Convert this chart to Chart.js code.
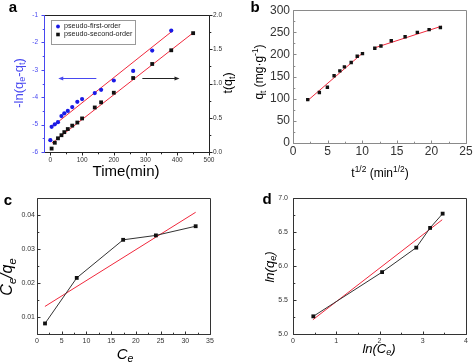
<!DOCTYPE html>
<html>
<head>
<meta charset="utf-8">
<script src="https://cdn.jsdelivr.net/npm/chart.js@4.4.0/dist/chart.umd.min.js"></script>
<style>
  html, body { margin: 0; padding: 0; background: #fff; }
  body { width: 474px; height: 364px; position: relative; overflow: hidden; }
  canvas { position: absolute; }
</style>
</head>
<body>
<canvas id="chartA" width="237" height="182" style="left:0;top:0;width:237px;height:182px"></canvas>
<canvas id="chartB" width="237" height="182" style="left:237px;top:0;width:237px;height:182px"></canvas>
<canvas id="chartC" width="237" height="182" style="left:0;top:182px;width:237px;height:182px"></canvas>
<canvas id="chartD" width="237" height="182" style="left:237px;top:182px;width:237px;height:182px"></canvas>
<script>
// panel a - kinetics
const firstTime = [0, 4, 14, 24, 35, 44, 55, 69, 85, 100, 140, 160, 200, 261, 321, 381];
const firstLn = [-5.57, -5.08, -4.99, -4.91, -4.69, -4.59, -4.50, -4.36, -4.17, -4.07, -3.85, -3.73, -3.39, -3.04, -2.30, -1.57];
const secondTime = [4, 14, 24, 35, 44, 55, 69, 85, 100, 140, 160, 200, 261, 321, 381, 450];
const secondTq = [0.05, 0.135, 0.20, 0.245, 0.29, 0.335, 0.385, 0.43, 0.49, 0.65, 0.725, 0.865, 1.08, 1.285, 1.485, 1.735];
const firstFitTime = [4, 385];
const firstFitLn = [-5.09, -1.58];
const secondFitTime = [5, 450];
const secondFitTq = [0.13, 1.74];
const timeTicks = [0, 100, 200, 300, 400, 500];
const lnTicks = [-6, -5, -4, -3, -2, -1];
const tqTicks = [0, 0.5, 1, 1.5, 2];

// panel b - intraparticle diffusion
const rootTime = [2.13, 3.81, 4.97, 5.94, 6.77, 7.43, 8.41, 9.28, 10.04, 11.82, 12.71, 14.2, 16.2, 17.97, 19.67, 21.3];
const qt = [98, 114, 126, 152, 163, 172, 182, 196, 202, 214, 219, 231, 240, 250, 256, 261];
const fit1Root = [2.13, 10.2];
const fit1Qt = [96, 205];
const fit2Root = [11.8, 21.5];
const fit2Qt = [215, 264];
const rootTicks = [0, 5, 10, 15, 20, 25];
const qtTicks = [0, 50, 100, 150, 200, 250, 300];

// panel c - Langmuir
const ce = [1.62, 8.04, 17.43, 24.05, 32.1];
const ceQe = [0.0081, 0.0215, 0.0327, 0.0340, 0.0367];
const langFitCe = [1.6, 32.1];
const langFitRatio = [0.0131, 0.0408];
const ceTicks = [0, 5, 10, 15, 20, 25, 30, 35];
const ratioTicks = [0.01, 0.02, 0.03, 0.04];

// panel d - Freundlich
const lnCe = [0.47, 2.06, 2.85, 3.17, 3.46];
const lnQe = [5.26, 5.91, 6.27, 6.56, 6.77];
const freFitLnCe = [0.46, 3.45];
const freFitLnQe = [5.21, 6.68];
const lnCeTicks = [0, 1, 2, 3, 4];
const lnQeTicks = [5, 5.5, 6, 6.5, 7];

const FONT = '"Liberation Sans", Arial, sans-serif';
const RED = '#f0283c';

const pts = (xs, ys) => xs.map((x, i) => ({ x, y: ys[i] }));

function drawRich(ctx, t) {
    const size = t.size;
    const style = t.style || '';
    const fontOf = s => `${style} ${s}px ${FONT}`;
    ctx.save();
    ctx.translate(t.x, t.y);
    if (t.rot) ctx.rotate(t.rot);
    ctx.fillStyle = t.color || '#000';
    ctx.textBaseline = 'middle';
    let w = 0;
    t.parts.forEach(p => {
        ctx.font = fontOf(p[1] ? size * 0.7 : size);
        w += ctx.measureText(p[0]).width;
    });
    let cx = -w / 2;
    t.parts.forEach(p => {
        ctx.font = fontOf(p[1] ? size * 0.7 : size);
        const dy = p[1] === 'sub' ? size * 0.3 : p[1] === 'sup' ? -size * 0.35 : 0;
        ctx.fillText(p[0], cx, dy);
        cx += ctx.measureText(p[0]).width;
    });
    ctx.restore();
}

// frame, tick marks, titles, legend and arrows
const decor = {
    id: 'decor',
    afterDraw(chart, args, opts) {
        const ctx = chart.ctx;
        const a = chart.chartArea;
        ctx.save();
        ctx.lineWidth = 1;
        const side = (c, x1, y1, x2, y2) => {
            ctx.strokeStyle = c;
            ctx.beginPath(); ctx.moveTo(x1, y1); ctx.lineTo(x2, y2); ctx.stroke();
        };
        const fc = opts.frame;
        const L = Math.round(a.left) + 0.5, R = Math.round(a.right) + 0.5;
        const T = Math.round(a.top) + 0.5, B = Math.round(a.bottom) + 0.5;
        side(fc, L, T, R, T);
        side((opts.sideColors || {}).right || fc, R, T, R, B);
        side((opts.sideColors || {}).bottom || fc, L, B, R, B);
        side((opts.sideColors || {}).left || fc, L, T, L, B);

        // tick marks
        Object.values(chart.scales).forEach(scale => {
            const color = (opts.sideColors || {})[scale.position] || fc;
            const dir = opts.inward ? 1 : -1;
            const marks = scale.ticks.map(t => ({ v: t.value, len: 3 }));
            const step = (opts.minor || {})[scale.id];
            if (step) {
                for (let k = Math.ceil(scale.min / step - 1e-9); k * step <= scale.max + 1e-9; k++) {
                    marks.push({ v: k * step, len: 1.8 });
                }
            }
            ctx.strokeStyle = color;
            marks.forEach(m => {
                const p = Math.round(scale.getPixelForValue(m.v)) + 0.5;
                ctx.beginPath();
                if (scale.position === 'left') { ctx.moveTo(L, p); ctx.lineTo(L + dir * m.len, p); }
                else if (scale.position === 'right') { ctx.moveTo(R, p); ctx.lineTo(R - dir * m.len, p); }
                else { ctx.moveTo(p, B); ctx.lineTo(p, B - dir * m.len); }
                ctx.stroke();
            });
        });

        if (opts.legend) {
            const lg = opts.legend;
            ctx.strokeStyle = '#999';
            ctx.strokeRect(lg.box[0] + 0.5, lg.box[1] + 0.5, lg.box[2], lg.box[3]);
            ctx.font = `${lg.size}px ${FONT}`;
            ctx.textBaseline = 'middle';
            lg.items.forEach((it, i) => {
                const y = lg.box[1] + 6.5 + i * 8;
                const x = lg.box[0] + 7;
                ctx.fillStyle = it.color;
                ctx.beginPath();
                if (it.shape === 'circle') ctx.arc(x, y, 1.9, 0, Math.PI * 2);
                else ctx.rect(x - 1.8, y - 1.8, 3.6, 3.6);
                ctx.fill();
                ctx.fillStyle = '#222';
                ctx.fillText(it.text, x + 6, y);
            });
        }

        (opts.arrows || []).forEach(ar => {
            const sx = chart.scales.x;
            const sy = chart.scales[ar.axis];
            const x1 = sx.getPixelForValue(ar.from), x2 = sx.getPixelForValue(ar.to);
            const y = Math.round(sy.getPixelForValue(ar.at)) + 0.5;
            const d = Math.sign(x2 - x1);
            ctx.strokeStyle = ar.color;
            ctx.fillStyle = ar.color;
            ctx.beginPath(); ctx.moveTo(x1, y); ctx.lineTo(x2 - d * 3, y); ctx.stroke();
            ctx.beginPath(); ctx.moveTo(x2, y); ctx.lineTo(x2 - d * 5, y - 2); ctx.lineTo(x2 - d * 5, y + 2); ctx.closePath(); ctx.fill();
        });

        (opts.texts || []).forEach(t => drawRich(ctx, t));
        ctx.restore();
    }
};

function axis(opts) {
    return {
        type: 'linear',
        position: opts.position,
        min: opts.min,
        max: opts.max,
        grid: { display: false, drawTicks: false },
        border: { display: false },
        afterBuildTicks: s => { s.ticks = opts.ticks.map(v => ({ value: v })); },
        afterFit: s => {
            if (opts.width !== undefined) s.width = opts.width;
            if (opts.height !== undefined) s.height = opts.height;
        },
        ticks: {
            padding: opts.pad,
            color: opts.color || '#333',
            font: { family: FONT, size: opts.size },
            maxRotation: 0,
            callback: v => opts.digits !== undefined ? Number(v).toFixed(opts.digits) : String(v)
        }
    };
}

function pointSet(data, color, style, r, yAxisID, line) {
    return {
        data, yAxisID,
        pointStyle: style,
        pointRadius: r,
        pointBackgroundColor: color,
        pointBorderWidth: 0,
        showLine: !!line,
        borderColor: line || color,
        borderWidth: 1
    };
}

function fitSet(data, yAxisID) {
    return { data, yAxisID, showLine: true, pointRadius: 0, borderColor: RED, borderWidth: 1 };
}

function makeChart(id, padding, datasets, scales, decorOpts) {
    return new Chart(document.getElementById(id), {
        type: 'scatter',
        data: { datasets },
        options: {
            responsive: false,
            animation: false,
            layout: { padding },
            scales,
            plugins: { legend: { display: false }, tooltip: { enabled: false }, decor: decorOpts }
        },
        plugins: [decor]
    });
}

const BLUE = '#1a1ae6';
const BLUE_AXIS = '#4848f0';

makeChart('chartA', { top: 15, right: 0, left: 0, bottom: 0 }, [
    pointSet(pts(firstTime, firstLn), BLUE, 'circle', 2.1, 'y'),
    pointSet(pts(secondTime, secondTq), '#111', 'rect', 2.7, 'y1'),
    fitSet(pts(firstFitTime, firstFitLn), 'y'),
    fitSet(pts(secondFitTime, secondFitTq), 'y1')
], {
    x: axis({ position: 'bottom', min: -20, max: 500, ticks: timeTicks, height: 30, pad: 4, size: 6.5 }),
    y: axis({ position: 'left', min: -6, max: -1, ticks: lnTicks, width: 44, pad: 6, size: 6.5, color: BLUE_AXIS }),
    y1: axis({ position: 'right', min: 0, max: 2, ticks: tqTicks, width: 28, pad: 4, size: 6.5, digits: 1 })
}, {
    frame: '#222',
    sideColors: { left: BLUE_AXIS },
    inward: false,
    minor: { x: 50, y: 0.5, y1: 0.25 },
    legend: {
        box: [51, 20, 84, 24], size: 7.2,
        items: [
            { text: 'pseudo-first-order', color: BLUE, shape: 'circle' },
            { text: 'pseudo-second-order', color: '#111', shape: 'rect' }
        ]
    },
    arrows: [
        { axis: 'y', at: -3.3, from: 145, to: 25, color: BLUE_AXIS },
        { axis: 'y', at: -3.3, from: 290, to: 407, color: '#222' }
    ],
    texts: [
        { x: 13, y: 8, size: 15, style: 'bold', parts: [['a']] },
        { x: 19, y: 83, size: 13, rot: -Math.PI / 2, color: BLUE_AXIS,
          parts: [['-ln(q'], ['e', 'sub'], ['-q'], ['t', 'sub'], [')']] },
        { x: 229, y: 83, size: 12.5, rot: -Math.PI / 2, parts: [['t(q'], ['t', 'sub'], [')']] },
        { x: 126, y: 172, size: 15, parts: [['Time(min)']] }
    ]
});

makeChart('chartB', { top: 6, right: 8, left: 0, bottom: 0 }, [
    pointSet(pts(rootTime, qt), '#111', 'rect', 2.4, 'y'),
    fitSet(pts(fit1Root, fit1Qt), 'y'),
    fitSet(pts(fit2Root, fit2Qt), 'y')
], {
    x: axis({ position: 'bottom', min: 0, max: 25, ticks: rootTicks, height: 39, pad: 1, size: 12 }),
    y: axis({ position: 'left', min: 0, max: 300, ticks: qtTicks, width: 56, pad: 3, size: 12 })
}, {
    frame: '#8a8a8a',
    inward: true,
    minor: { x: 2.5, y: 25 },
    texts: [
        { x: 18, y: 8, size: 15, style: 'bold', parts: [['b']] },
        { x: 23, y: 72, size: 12, rot: -Math.PI / 2, parts: [['q'], ['t', 'sub'], [' (mg·g'], ['-1', 'sup'], [')']] },
        { x: 143, y: 174, size: 12, parts: [['t'], ['1/2', 'sup'], [' (min'], ['1/2', 'sup'], [')']] }
    ]
});

makeChart('chartC', { top: 16, right: 27, left: 0, bottom: 0 }, [
    pointSet(pts(ce, ceQe), '#111', 'rect', 2.7, 'y', '#333'),
    fitSet(pts(langFitCe, langFitRatio), 'y')
], {
    x: axis({ position: 'bottom', min: 0, max: 35, ticks: ceTicks, height: 30, pad: 3, size: 7 }),
    y: axis({ position: 'left', min: 0.005, max: 0.045, ticks: ratioTicks, width: 37, pad: 2, size: 7, digits: 2 })
}, {
    frame: '#333',
    inward: true,
    minor: { x: 2.5, y: 0.005 },
    texts: [
        { x: 8, y: 19, size: 15, style: 'bold', parts: [['c']] },
        { x: 8, y: 95, size: 16, style: 'italic', rot: -Math.PI / 2, parts: [['C'], ['e', 'sub'], ['/q'], ['e', 'sub']] },
        { x: 125, y: 173, size: 15, style: 'italic', parts: [['C'], ['e', 'sub']] }
    ]
});

makeChart('chartD', { top: 16, right: 8, left: 0, bottom: 0 }, [
    pointSet(pts(lnCe, lnQe), '#111', 'rect', 2.7, 'y', '#333'),
    fitSet(pts(freFitLnCe, freFitLnQe), 'y')
], {
    x: axis({ position: 'bottom', min: 0, max: 4, ticks: lnCeTicks, height: 30, pad: 3, size: 7 }),
    y: axis({ position: 'left', min: 5, max: 7, ticks: lnQeTicks, width: 56, pad: 5, size: 7, digits: 1 })
}, {
    frame: '#333',
    inward: true,
    minor: { x: 0.5, y: 0.25 },
    texts: [
        { x: 30, y: 18, size: 15, style: 'bold', parts: [['d']] },
        { x: 33, y: 85, size: 13, style: 'italic', rot: -Math.PI / 2, parts: [['ln(q'], ['e', 'sub'], [')']] },
        { x: 142, y: 167, size: 13, style: 'italic', parts: [['ln(C'], ['e', 'sub'], [')']] }
    ]
});
</script>
</body>
</html>
